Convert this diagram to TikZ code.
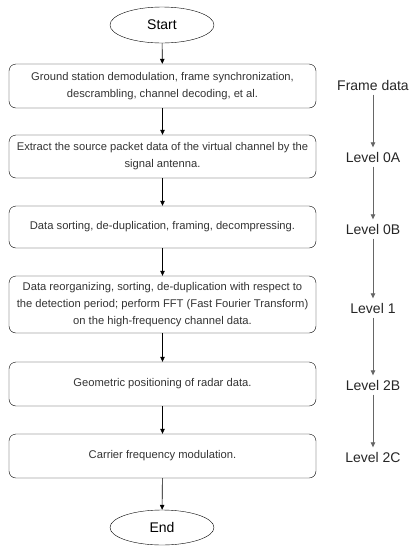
\documentclass[tikz,border=0pt]{standalone}
\usepackage{fontspec}
\setmainfont{Liberation Sans}
\usepackage{tikz}
\usetikzlibrary{shapes.geometric,arrows.meta}

\begin{document}
\begin{tikzpicture}
  [x=1pt,y=-1pt,
   box/.style={draw,rounded corners=7pt,minimum width=307pt,align=center,
     text=black!80,font=\fontsize{11.2}{17}\selectfont},
   term/.style={draw,ellipse,minimum width=104pt,minimum height=36pt,inner sep=0pt,
     font=\fontsize{14}{16}\selectfont},
   lvl/.style={text=black!85,font=\fontsize{14}{16}\selectfont},
   flow/.style={-{Triangle[length=5pt,width=4.5pt]},line width=0.6pt},
   lvlflow/.style={-{Triangle[length=5pt,width=4.5pt]},line width=0.8pt,black!60,
     shorten <=1pt,shorten >=1pt}]
  \useasboundingbox (0,0) rectangle (414,550);

  \node[term] (start) at (162,25) {Start};
  \node[box,minimum height=44pt] (b1) at (162.5,86)
    {Ground station demodulation, frame synchronization,\\descrambling, channel decoding, et al.};
  \node[box,minimum height=43pt] (b2) at (162.5,156.5)
    {Extract the source packet data of the virtual channel by the\\signal antenna.};
  \node[box,minimum height=42pt] (b3) at (162.5,227)
    {Data sorting, de-duplication, framing, decompressing.};
  \node[box,minimum height=57pt] (b4) at (162.5,304.5)
    {Data reorganizing, sorting, de-duplication with respect to\\the detection period; perform FFT (Fast Fourier Transform)\\on the high-frequency channel data.};
  \node[box,minimum height=44pt] (b5) at (162.5,384)
    {Geometric positioning of radar data.};
  \node[box,minimum height=44pt] (b6) at (162.5,456)
    {Carrier frequency modulation.};
  \node[term,minimum height=35pt] (end) at (162,527.5) {End};

  \node[lvl] (l0) at (373,85)  {Frame data};
  \node[lvl] (l1) at (373,157) {Level 0A};
  \node[lvl] (l2) at (373,229) {Level 0B};
  \node[lvl] (l3) at (373,308) {Level 1};
  \node[lvl] (l4) at (373,385) {Level 2B};
  \node[lvl] (l5) at (373,457) {Level 2C};

  \foreach \from/\to in {start/b1,b1/b2,b2/b3,b3/b4,b4/b5,b5/b6,b6/end}
    \draw[flow] (\from) -- (\to);

  \foreach \from/\to in {l0/l1,l1/l2,l2/l3,l3/l4,l4/l5}
    \draw[lvlflow] (\from) -- (\to);

\end{tikzpicture}
\end{document}
